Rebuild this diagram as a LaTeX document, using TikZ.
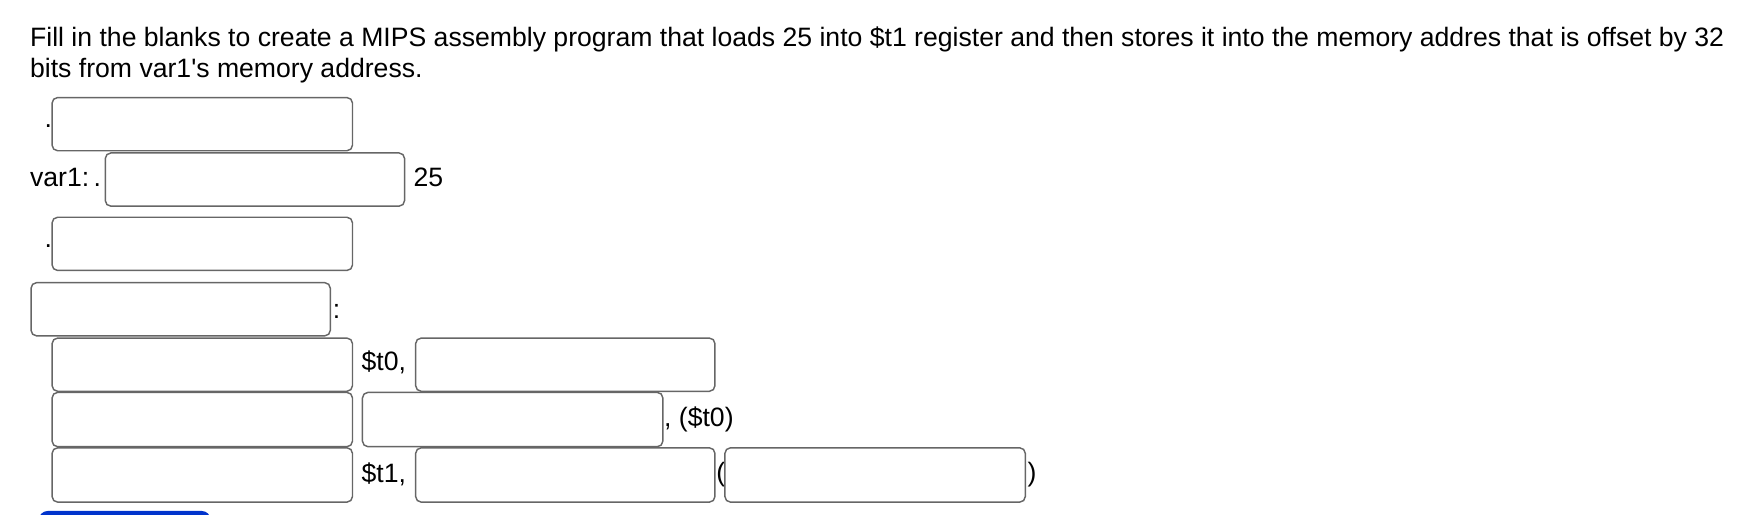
\documentclass[tikz,border=0pt]{standalone}
\usepackage{fontspec}
\setmainfont{Liberation Sans}
\begin{document}
\begin{tikzpicture}[x=1pt,y=-1pt,
  blank/.style={draw=black!60,line width=1.3pt,rounded corners=5pt,fill=white},
  txt/.style={anchor=west,inner sep=0pt,font=\fontsize{24}{28}\selectfont}]
\useasboundingbox (0,0) rectangle (1568,464);
\node[txt] (t1) at (27,36) {Fill in the blanks to create a MIPS assembly program that loads 25 into \$t1 register and then stores it into the memory addres that is offset by 32};
\node[txt] (t2) at (27,64) {bits from var1\textquotesingle s memory address.};
\newcommand{\blankbox}[5]{\draw[blank] (#1,#2) rectangle (#3,#4); \coordinate (#5) at (#3,{(#2+#4)/2});}
\node[txt] (d1) at (40,114) {.};
\blankbox{47}{88}{318}{136}{b1}
\node[txt] (v) at (27,160) {var1:\kern4pt.};
\blankbox{95}{138}{365}{186}{b2}
\node[txt] (n25) at (373,160) {25};
\node[txt] (d3) at (40,222) {.};
\blankbox{47}{196}{318}{244}{b3}
\blankbox{28}{255}{298}{303}{b4}
\node[txt] (c4) at (300,281) {:};
\blankbox{47}{305}{318}{353}{b5}
\node[txt] (s5) at (326,327) {\$t0,};
\blankbox{375}{305}{645}{353}{b5b}
\blankbox{47}{354}{318}{403}{b6}
\blankbox{327}{354}{598}{403}{b6b}
\node[txt] (s6) at (599,378) {, (\$t0)};
\blankbox{47}{404}{318}{453}{b7}
\node[txt] (s7) at (326,428) {\$t1,};
\blankbox{375}{404}{645}{453}{b7b}
\node[txt] (p7) at (646,428) {(};
\blankbox{654}{404}{925}{453}{b7c}
\node[txt] (q7) at (927,428) {)};
\fill[blue!75!cyan!80!black,rounded corners=8pt] (35,461) rectangle (190,480);
\end{tikzpicture}
\end{document}
